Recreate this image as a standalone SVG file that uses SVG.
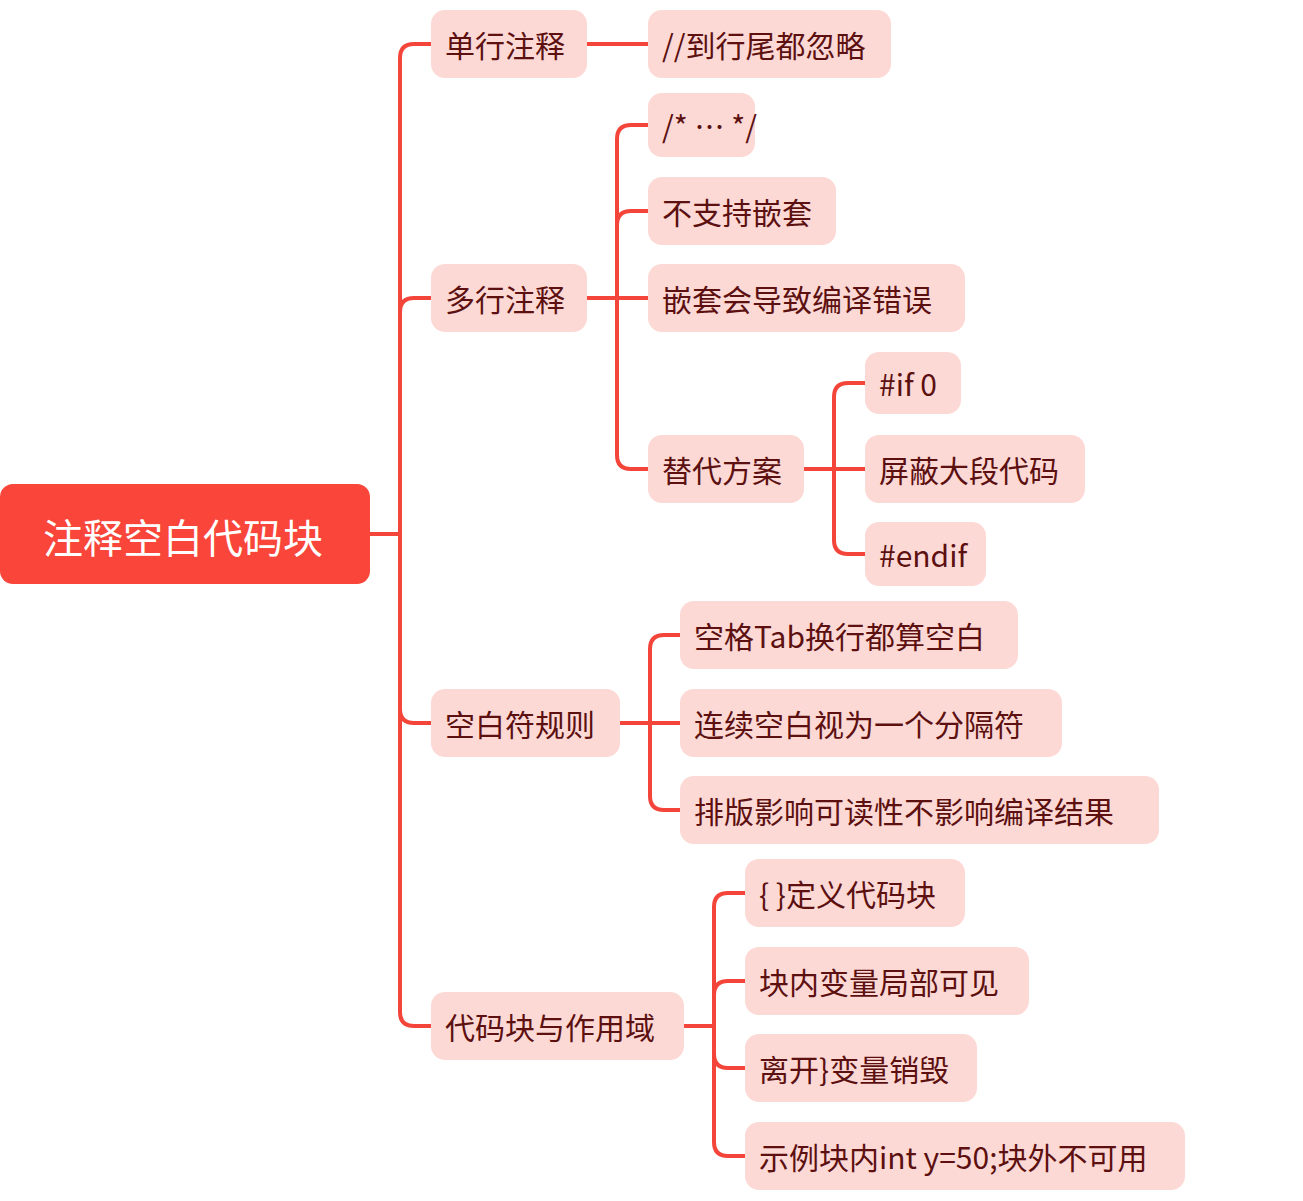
<svg xmlns="http://www.w3.org/2000/svg" width="1303" height="1201" viewBox="0 0 1303 1201">
<style>
.n rect{fill:#fdd9d6}
.n text{font-family:"Noto Sans CJK SC","Noto Sans",sans-serif;font-size:30px;fill:#5c1010;dominant-baseline:central}
.c path{fill:none;stroke:#f4453b;stroke-width:4;stroke-linecap:round}
</style>
<rect width="1303" height="1201" fill="#fff"/>
<g class="c">
<path d="M370,534 H400"/>
<path d="M400,534 V58 Q400,44 414,44 H431"/>
<path d="M400,534 V312 Q400,298 414,298 H431"/>
<path d="M400,534 V709 Q400,723 414,723 H431"/>
<path d="M400,534 V1012 Q400,1026 414,1026 H431"/>
<path d="M587,44 H648"/>
<path d="M587,298 H648"/>
<path d="M617,298 V139 Q617,125 631,125 H648"/>
<path d="M617,298 V225 Q617,211 631,211 H648"/>
<path d="M617,298 V455 Q617,469 631,469 H648"/>
<path d="M804,469 H865"/>
<path d="M834,469 V397 Q834,383 848,383 H865"/>
<path d="M834,469 V540 Q834,554 848,554 H865"/>
<path d="M620,723 H680"/>
<path d="M650,723 V649 Q650,635 664,635 H680"/>
<path d="M650,723 V796 Q650,810 664,810 H680"/>
<path d="M684,1026 H714"/>
<path d="M714,1026 V907 Q714,893 728,893 H745"/>
<path d="M714,1026 V995 Q714,981 728,981 H745"/>
<path d="M714,1026 V1054 Q714,1068 728,1068 H745"/>
<path d="M714,1026 V1142 Q714,1156 728,1156 H745"/>
</g>
<g id="root"><rect x="0" y="484" width="370" height="100" rx="13" fill="#f9453a"/><text x="183" y="536" text-anchor="middle" font-family="Noto Sans CJK SC,sans-serif" font-size="40" fill="#fff" dominant-baseline="central">注释空白代码块</text></g>
<g id="n1" class="n"><rect x="431" y="10" width="156" height="68" rx="14"/><text x="445" y="44">单行注释</text></g>
<g id="n2" class="n"><rect x="431" y="264" width="156" height="68" rx="14"/><text x="445" y="298">多行注释</text></g>
<g id="n3" class="n"><rect x="431" y="689" width="189" height="68" rx="14"/><text x="445" y="723">空白符规则</text></g>
<g id="n4" class="n"><rect x="431" y="992" width="253" height="68" rx="14"/><text x="445" y="1026">代码块与作用域</text></g>
<g id="n11" class="n"><rect x="648" y="10" width="243" height="68" rx="14"/><text x="662" y="44">//到行尾都忽略</text></g>
<g id="n21" class="n"><rect x="648" y="93" width="107" height="64" rx="14"/><text x="662" y="125">/* … */</text></g>
<g id="n22" class="n"><rect x="648" y="177" width="188" height="68" rx="14"/><text x="662" y="211">不支持嵌套</text></g>
<g id="n23" class="n"><rect x="648" y="264" width="317" height="68" rx="14"/><text x="662" y="298">嵌套会导致编译错误</text></g>
<g id="n24" class="n"><rect x="648" y="435" width="156" height="68" rx="14"/><text x="662" y="469">替代方案</text></g>
<g id="n241" class="n"><rect x="865" y="352" width="96" height="62" rx="14"/><text x="879" y="383">#if 0</text></g>
<g id="n242" class="n"><rect x="865" y="435" width="220" height="68" rx="14"/><text x="879" y="469">屏蔽大段代码</text></g>
<g id="n243" class="n"><rect x="865" y="522" width="121" height="64" rx="14"/><text x="879" y="554">#endif</text></g>
<g id="n31" class="n"><rect x="680" y="601" width="338" height="68" rx="14"/><text x="694" y="635">空格Tab换行都算空白</text></g>
<g id="n32" class="n"><rect x="680" y="689" width="382" height="68" rx="14"/><text x="694" y="723">连续空白视为一个分隔符</text></g>
<g id="n33" class="n"><rect x="680" y="776" width="479" height="68" rx="14"/><text x="694" y="810">排版影响可读性不影响编译结果</text></g>
<g id="n41" class="n"><rect x="745" y="859" width="220" height="68" rx="14"/><text x="759" y="893">{ }定义代码块</text></g>
<g id="n42" class="n"><rect x="745" y="947" width="284" height="68" rx="14"/><text x="759" y="981">块内变量局部可见</text></g>
<g id="n43" class="n"><rect x="745" y="1034" width="232" height="68" rx="14"/><text x="759" y="1068">离开}变量销毁</text></g>
<g id="n44" class="n"><rect x="745" y="1122" width="440" height="68" rx="14"/><text x="759" y="1156">示例块内int y=50;块外不可用</text></g>
</svg>
